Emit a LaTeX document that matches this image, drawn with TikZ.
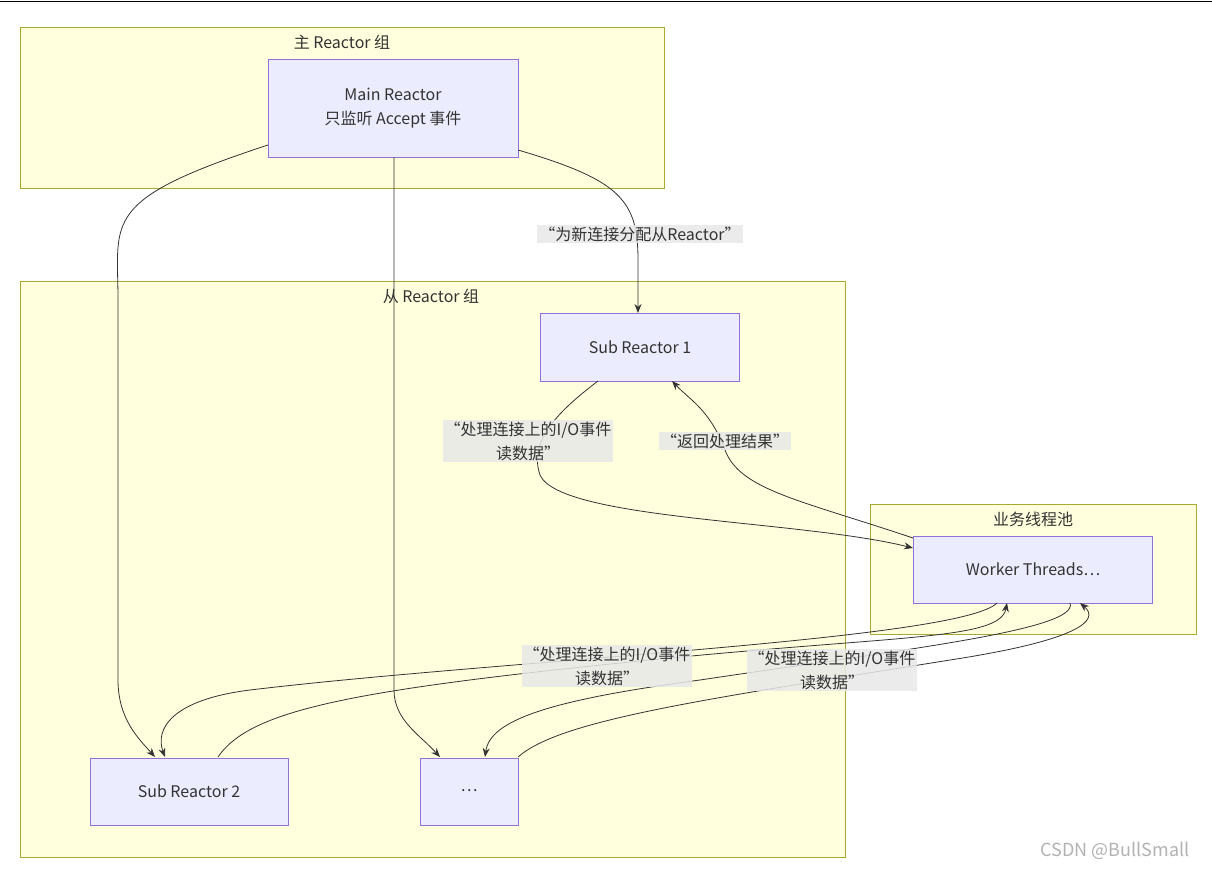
\documentclass[tikz,border=0pt]{standalone}
\usepackage{fontspec}
\setmainfont{Noto Sans CJK SC}
\usetikzlibrary{arrows.meta}
\definecolor{grp}{HTML}{FFFFDE}\definecolor{grpd}{HTML}{AAAA33}
\definecolor{nd}{HTML}{ECECFF}\definecolor{ndd}{HTML}{9370DB}
\definecolor{txt}{HTML}{333333}
\begin{document}
\begin{tikzpicture}[x=1pt,y=-1pt,font=\fontsize{16}{24}\selectfont,text=txt,
 grpbox/.style={draw=grpd,fill=grp,line width=0.8pt},
 box/.style={draw=ndd,fill=nd,line width=0.8pt},
 lbl/.style={fill=gray!18,fill opacity=0.85,text opacity=1,inner sep=2pt,align=center},
 ed/.style={draw=txt,line width=0.8pt,-{Stealth[length=9pt,width=7pt]}}]
\useasboundingbox (0,0) rectangle (1212,870);
\fill[white] (0,0) rectangle (1212,870);
\draw[black,line width=1pt] (0,1) -- (1212,1);
\draw[grpbox] (20,27) rectangle (664,188);
\node (g1) at (342,42) {主 Reactor 组};
\draw[grpbox] (20,281) rectangle (845,857);
\node (g2) at (431,296) {从 Reactor 组};
\draw[grpbox] (870,504) rectangle (1196,634);
\node (g3) at (1033,519) {业务线程池};
\draw[box] (268,59) rectangle (518,157); \node[align=center] (main) at (393,108) {Main Reactor\\只监听 Accept 事件};
\draw[box] (540,313) rectangle (739,381); \node (s1) at (640,347) {Sub Reactor 1};
\draw[box] (90,758) rectangle (288,825); \node (s2) at (189,791) {Sub Reactor 2};
\draw[box] (420,758) rectangle (518,825); \node (s3) at (469,791) {\dots};
\draw[box] (913,536) rectangle (1152,603); \node (w) at (1033,569) {Worker Threads\dots};
\coordinate (m1) at (268,145); \coordinate (m2) at (394,157); \coordinate (m3) at (518,150);
\coordinate (s2a) at (155,757); \coordinate (s2b) at (165,757); \coordinate (s2c) at (218,757);
\coordinate (s3a) at (440,757); \coordinate (s3b) at (485,757); \coordinate (s3c) at (518,757);
\coordinate (s1a) at (638,313); \coordinate (s1b) at (598,381); \coordinate (s1c) at (672,381);
\coordinate (wa) at (913,548); \coordinate (wb) at (913,538);
\coordinate (w1) at (997,603); \coordinate (w2) at (1007,603); \coordinate (w3) at (1070,603); \coordinate (w4) at (1080,603);
\draw[ed] (m1) .. controls (100,200) and (118,220) .. (118,300) -- (118,680) .. controls (118,720) and (140,740) .. (s2a);
\draw[ed] (m2) -- (394,690) .. controls (394,720) and (420,735) .. (s3a);
\draw[ed] (m3) .. controls (620,180) and (638,200) .. (638,260) -- (s1a);
\node[lbl] (l0) at (640,234) {“为新连接分配从Reactor”};
\draw[ed] (s1b) .. controls (560,410) and (528,440) .. (540,475) .. controls (560,520) and (800,520) .. (wa);
\draw[ed] (wb) .. controls (800,500) and (740,490) .. (725,450) .. controls (710,410) and (690,400) .. (s1c);
\draw[ed] (w1) .. controls (960,640) and (500,660) .. (250,690) .. controls (170,700) and (155,730) .. (s2b);
\draw[ed] (s2c) .. controls (250,710) and (350,690) .. (650,660) .. controls (900,635) and (1000,640) .. (w2);
\draw[ed] (w3) .. controls (1080,630) and (900,650) .. (700,680) .. controls (550,700) and (490,720) .. (s3b);
\draw[ed] (s3c) .. controls (560,720) and (700,700) .. (950,660) .. controls (1080,640) and (1100,620) .. (w4);
\node[lbl] (l1) at (528,441) {“处理连接上的I/O事件\\读数据”};
\node[lbl] (l2) at (725,441) {“返回处理结果”};
\node[lbl] (l3) at (607,666) {“处理连接上的I/O事件\\读数据”};
\node[lbl] (l4) at (832,670) {“处理连接上的I/O事件\\读数据”};
\node[text=gray!60,font=\fontsize{18}{20}\selectfont] (wm) at (1115,851) {CSDN @BullSmall};
\end{tikzpicture}
\end{document}
